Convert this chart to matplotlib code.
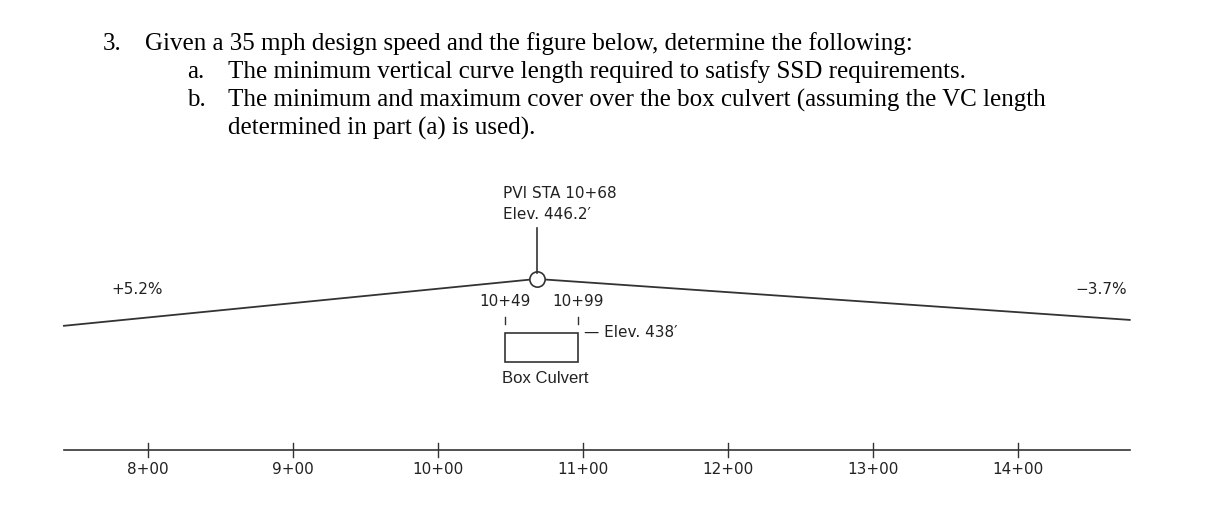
import matplotlib
matplotlib.use("Agg")
import matplotlib.pyplot as plt

stations = [800, 900, 1000, 1100, 1200, 1300, 1400]
station_labels = ["8+00", "9+00", "10+00", "11+00", "12+00", "13+00", "14+00"]
pvi_sta, pvi_elev = 1068, 446.2
g1, g2 = 5.2, -3.7
start_sta, end_sta = 742, 1477
culvert_sta = [1049, 1099]

fig = plt.figure(figsize=(12.24, 5.2), dpi=100)
ax = fig.add_axes([0, 0, 1, 1])
ax.set_xlim(697.9, 1542.0)
ax.set_ylim(361.6, 544.1)
ax.axis("off")
ppx = 1.45; ppy = 2.85
def ey(py): return 544.1 - py / ppy

xs = [start_sta, pvi_sta, end_sta]
ys = [pvi_elev - (pvi_sta - start_sta) * g1 / 100 * 0.97, pvi_elev,
      pvi_elev + (end_sta - pvi_sta) * g2 / 100 * 0.95]
ax.plot(xs, ys, color="#333", lw=1.3)
ax.plot([pvi_sta], [pvi_elev], 'o', ms=11, mfc='white', mec='#333', mew=1.2)
ax.plot([pvi_sta, pvi_sta], [ey(228), ey(273)], color="#333", lw=1.2)

sf = dict(family="DejaVu Sans", fontsize=11, color="#222")
ax.text(1049 - 4, ey(194), "PVI STA 10+68", va="center", **sf)
ax.text(1049 - 4, ey(215), "Elev. 446.2\u2032", va="center", **sf)
ax.text(700 + 75, ey(290), "+5.2%", va="center", **sf)
ax.text(1475, ey(290), "\u22123.7%", va="center", ha="right", **sf)

c0, c1 = culvert_sta
off = -2.5
ax.text(c0 + off, ey(302), "10+49", ha="center", va="center", **sf)
ax.text(c1 + off, ey(302), "10+99", ha="center", va="center", **sf)
for c in culvert_sta:
    ax.plot([c + off, c + off], [ey(317), ey(324)], color="#333", lw=1)
ax.add_patch(plt.Rectangle((c0 + off, ey(362)), c1 - c0, ey(333) - ey(362), fill=False, ec="#333", lw=1.2))
ax.text(c1 + off + 4, ey(333), "\u2014 Elev. 438\u2032", va="center", **sf)
ax.text((c0 + c1) / 2, ey(379), "Box Culvert", ha="center", va="center",
        family="Liberation Sans", fontsize=12, color="#222")

ax.plot([start_sta, end_sta], [ey(450), ey(450)], color="#333", lw=1.2)
for s, lab in zip(stations, station_labels):
    ax.plot([s, s], [ey(443), ey(457)], color="#333", lw=1)
    ax.text(s, ey(470), lab, ha="center", va="center", **sf)

tf = dict(family="Liberation Serif", fontsize=18, color="black", va="center")
def tx(px): return 697.9 + px / ppx
ax.text(tx(103), ey(44), "3.", **tf)
ax.text(tx(145), ey(44), "Given a 35 mph design speed and the figure below, determine the following:", **tf)
ax.text(tx(187), ey(72), "a.", **tf)
ax.text(tx(228), ey(72), "The minimum vertical curve length required to satisfy SSD requirements.", **tf)
ax.text(tx(187), ey(100), "b.", **tf)
ax.text(tx(228), ey(100), "The minimum and maximum cover over the box culvert (assuming the VC length", **tf)
ax.text(tx(228), ey(128), "determined in part (a) is used).", **tf)

fig.savefig("out.png", dpi=100)
